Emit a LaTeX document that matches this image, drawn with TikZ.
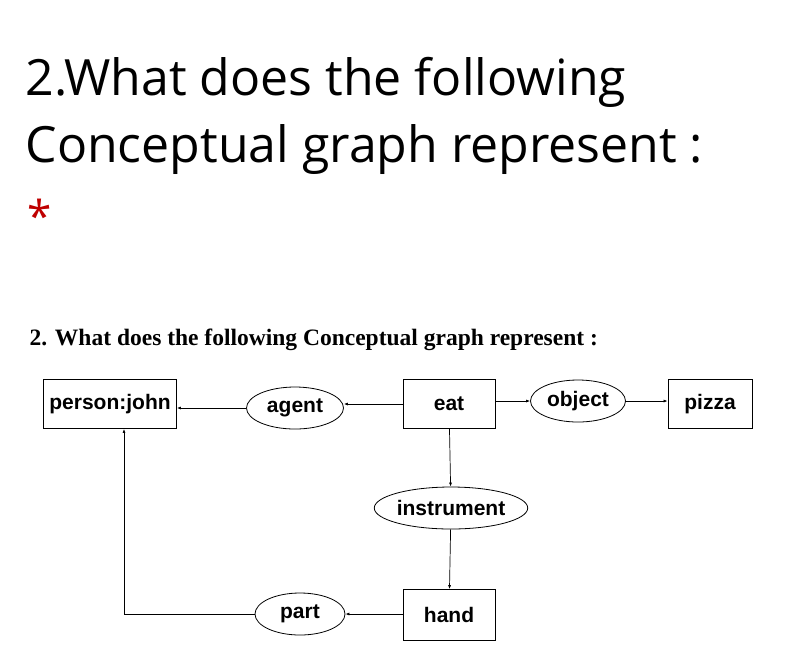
\documentclass[tikz,border=0pt]{standalone}
\usepackage{fontspec}
\setmainfont{Liberation Sans}
\newfontfamily\titlefont{Open Sans}
\newfontfamily\serifb{Liberation Serif}
\usetikzlibrary{shapes.geometric,arrows.meta}
\begin{document}
\begin{tikzpicture}[x=1pt,y=-1pt,
  box/.style={draw,line width=0.8pt,minimum width=#1,minimum height=49pt,inner sep=0pt,font=\bfseries\fontsize{21}{21}\selectfont},
  rel/.style={draw,ellipse,line width=0.8pt,minimum width=#1,minimum height=42pt,inner sep=0pt,font=\bfseries\fontsize{21}{21}\selectfont},
  conn/.style={line width=0.7pt,-{Latex[length=4pt,width=3pt]}}]
\useasboundingbox (0,0) rectangle (800,657);
\node[anchor=west,font=\titlefont\fontsize{50}{50}\selectfont] (t1) at (22,82) {2.What does the following};
\node[anchor=west,font=\titlefont\fontsize{50}{50}\selectfont] (t2) at (22,150) {Conceptual graph represent :};
\node[anchor=west,text=red!75!black,font=\titlefont\fontsize{44}{44}\selectfont] (star) at (24,216) {*};
\node[anchor=west,font=\serifb\bfseries\fontsize{23.5}{24}\selectfont] (sub) at (26,340) {2. What does the following Conceptual graph represent :};
\node[box=133pt] (person) at (110,404) {person:john};
\node[rel=97pt] (agent) at (295,408) {agent};
\node[box=92pt] (eat) at (449,404) {eat};
\node[rel=95pt] (object) at (578,401) {object};
\node[box=84pt] (pizza) at (710,404) {pizza};
\node[rel=136pt] (instr) at (451,508) {instrument};
\node[box=92pt,minimum height=51pt] (hand) at (449,615) {hand};
\node[rel=90pt] (part) at (300,614) {part};
\draw[conn] (eat.west) -- (agent.east |- eat.west);
\draw[conn] (agent.west) -- (person.east |- agent.west);
\draw[conn] (eat.east |- object) -- (object);
\draw[conn] (object) -- (pizza.west |- object);
\draw[conn] (eat) -- (instr);
\draw[conn] (instr) -- (hand);
\draw[conn] (hand.west |- part) -- (part);
\draw[conn] (part.west) -| (person.south -| 124,0);
\end{tikzpicture}
\end{document}
